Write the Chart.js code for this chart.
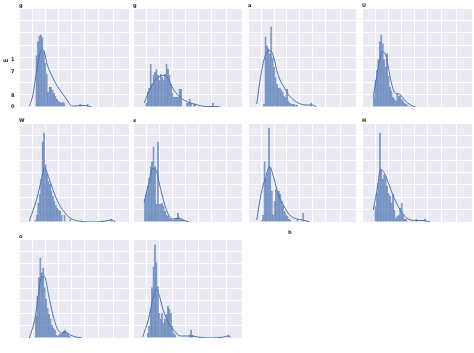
<!DOCTYPE html>
<html>
<head>
<meta charset="utf-8">
<script src="https://cdn.jsdelivr.net/npm/chart.js"></script>
<style>
  body { margin: 0; width: 474px; height: 353px; background: #fff; position: relative; overflow: hidden; font-family: "DejaVu Sans", sans-serif; }
  .panel { position: absolute; background: #EAEAF2; }
  .lbl { position: absolute; font-size: 5px; font-weight: bold; color: #262626; line-height: 1; -webkit-font-smoothing: antialiased; }
</style>
</head>
<body>
<script>
// Données (hauteurs relatives, axe x arbitraire 0..110)
const binWidth = 5 / 3;
const panelTitles = ['g', 'g', 'a', 'U', 'W', 'x', '', 'H', 'o', ''];
const binStarts = [11.3, 6.7, 10, 5, 10, 5, 7.3, 6.7, 10.7, 8.3];

const counts1 = [52, 66, 72, 73, 70, 56, 44, 33, 15, 20, 20, 17, 14, 11, 8, 6, 5, 4, 5, 4, 0, 0, 0, 0, 0, 0, 0, 0, 0, 0, 3, 0, 0, 0, 0, 3];
const counts2 = [4, 15, 19, 43, 23, 32, 35, 38, 32, 27, 33, 30, 27, 33, 43, 38, 32, 23, 14, 10, 10, 10, 10, 18, 18, 0, 0, 0, 4, 4, 8, 4, 0, 3, 3, 0, 0, 0, 0, 0, 0, 0, 0, 0, 0, 0, 4];
const counts3 = [3, 71, 62, 59, 54, 81, 50, 40, 30, 23, 19, 19, 17, 15, 11, 10, 18, 6, 4, 3, 3, 3, 2, 2, 0, 0, 0, 0, 0, 0, 0, 0, 0, 4];
const counts4 = [10, 27, 37, 48, 66, 73, 64, 48, 40, 54, 31, 20, 16, 10, 8, 6, 14, 11, 11, 8, 6, 4, 3, 2, 1];
const counts5 = [2, 7, 19, 28, 43, 81, 90, 58, 49, 41, 38, 31, 26, 21, 17, 14, 12, 11, 7, 0, 7, 0, 0, 0, 3, 0, 0, 0, 0, 0, 0, 0, 0, 0, 0, 0, 0, 0, 0, 0, 0, 0, 0, 0, 0, 0, 0, 0, 0, 0, 0, 0, 3];
const counts6 = [23, 28, 36, 44, 56, 61, 76, 56, 18, 81, 18, 18, 19, 16, 11, 7, 6, 4, 3, 2, 2, 3, 4, 9, 4, 2, 3, 2];
const counts7 = [2, 7, 61, 44, 50, 95, 55, 31, 7, 21, 33, 29, 31, 28, 21, 16, 11, 7, 6, 3, 2, 0, 0, 0, 0, 3, 0, 0, 0, 9];
const counts8 = [16, 29, 39, 90, 53, 43, 48, 46, 36, 29, 26, 19, 28, 12, 4, 6, 7, 14, 19, 7, 3, 3, 1, 0, 0, 0, 0, 0, 3, 0, 0, 0, 0, 0, 3];
const counts9 = [22, 42, 61, 81, 66, 71, 51, 39, 30, 24, 19, 13, 10, 8, 3, 2, 4, 4, 5, 7, 8, 5, 4, 2, 1];
const counts10 = [5, 12, 29, 51, 72, 94, 76, 52, 25, 19, 25, 15, 19, 24, 32, 29, 25, 12, 5, 3, 0, 0, 0, 0, 0, 0, 0, 0, 0, 3, 8, 3, 0, 0, 0, 0, 0, 0, 0, 0, 0, 0, 0, 0, 0, 0, 0, 0, 0, 0, 0, 0, 0, 0, 0, 0, 3];

// Courbes de densité (points relevés)
const kdeX1 = [4, 8, 12, 15, 18.3, 21, 24, 29, 34, 39, 44, 48, 51, 56, 62, 68, 75];
const kdeY1 = [1, 12, 35, 50, 58, 56, 44, 33, 24, 17, 11, 6, 2, 1, 1.5, 1.5, 0];
const kdeX2 = [5, 13.3, 20, 28, 31.7, 38, 45, 53, 63, 77, 87, 93];
const kdeY2 = [4, 21, 29, 32, 30, 19, 11, 6, 3, 0.5, 0.5, 0];
const kdeX3 = [2.3, 7.3, 12.3, 17.3, 20.7, 27.3, 34, 40.7, 50.7, 60.7, 67, 72];
const kdeY3 = [3, 33, 52, 57, 54, 32, 20, 11, 4, 2, 2, 0];
const kdeX4 = [5, 8.3, 11.7, 16, 20, 25, 30, 35, 41.7, 50, 53.3];
const kdeY4 = [10, 27, 45, 56, 50, 27, 14, 13, 6, 1, 0];
const kdeX5 = [4, 12.3, 17.3, 21.3, 25.7, 30.7, 37.3, 44, 50.7, 60.7, 80.7, 90.7, 97, 102];
const kdeY5 = [1, 23, 41, 55, 46, 33, 19, 10, 4, 1, 0, 1, 2, 0.5];
const kdeX6 = [5, 10, 15, 18.3, 23.3, 28.3, 33.3, 38.3, 45, 50, 56.7];
const kdeY6 = [20, 38, 54, 53, 36, 19, 7, 3, 4, 2, 0];
const kdeX7 = [2.3, 7.3, 12.3, 17.3, 22.3, 27.3, 34, 40.7, 49, 55.7, 64];
const kdeY7 = [2, 28, 44, 56, 44, 28, 16, 7, 3, 2, 0];
const kdeX8 = [5, 10, 13.3, 16.7, 21.7, 26.7, 31.7, 36.7, 43.3, 53.3, 63.3, 70];
const kdeY8 = [12, 36, 53, 51, 41, 29, 19, 11, 4, 1.5, 1.5, 0];
const kdeX9 = [4, 10.7, 14, 18, 21.3, 25.7, 30.7, 35.7, 40.7, 45.7, 50.7, 57.3, 64];
const kdeY9 = [0, 21, 42, 62, 62, 45, 24, 10, 5, 6, 3, 1, 0];
const kdeX10 = [3.3, 10, 15, 18.3, 21.7, 26.7, 33.3, 40, 46.7, 55, 60, 66.7, 80, 96.7, 101.7, 105];
const kdeY10 = [1, 19, 40, 49, 45, 29, 15, 7, 2, 2, 2, 1, 0, 1, 2, 1];

const allCounts = [counts1, counts2, counts3, counts4, counts5, counts6, counts7, counts8, counts9, counts10];
const allKdeX = [kdeX1, kdeX2, kdeX3, kdeX4, kdeX5, kdeX6, kdeX7, kdeX8, kdeX9, kdeX10];
const allKdeY = [kdeY1, kdeY2, kdeY3, kdeY4, kdeY5, kdeY6, kdeY7, kdeY8, kdeY9, kdeY10];

// Position des zones de tracé (gauche, largeur) et hauts des lignes
const cols = [[19, 110], [133, 109], [248, 108], [362, 110]];
const rows = [8, 123, 239];
const plotH = 99;

// Petits textes épars
const extraLabels = [
  { t: 'ш', x: 3, y: 58 }, { t: '1', x: 11, y: 57 }, { t: '7', x: 11, y: 69 },
  { t: '8', x: 11, y: 93 }, { t: '0', x: 11, y: 104 }, { t: 'h', x: 288, y: 230 }
];

function addLabel(text, x, y) {
  const d = document.createElement('div');
  d.className = 'lbl';
  d.textContent = text;
  d.style.left = x + 'px';
  d.style.top = y + 'px';
  document.body.appendChild(d);
}

const gridStyle = { color: '#ffffff', lineWidth: 1, drawTicks: false };

allCounts.forEach((counts, i) => {
  const col = cols[i % 4];
  const top = rows[Math.floor(i / 4)];

  const div = document.createElement('div');
  div.className = 'panel';
  div.style.left = col[0] + 'px';
  div.style.top = top + 'px';
  div.style.width = col[1] + 'px';
  div.style.height = plotH + 'px';
  const canvas = document.createElement('canvas');
  canvas.width = col[1];
  canvas.height = plotH;
  div.appendChild(canvas);
  document.body.appendChild(div);

  if (panelTitles[i]) addLabel(panelTitles[i], col[0], top - 5);

  const bars = counts.map((c, j) => ({ x: binStarts[i] + (j + 0.5) * binWidth, y: c }));
  const kde = allKdeX[i].map((x, j) => ({ x: x, y: allKdeY[i][j] }));

  new Chart(canvas.getContext('2d'), {
    type: 'bar',
    data: {
      datasets: [
        {
          type: 'line',
          data: kde,
          borderColor: '#4C72B0',
          borderWidth: 1,
          pointRadius: 0,
          cubicInterpolationMode: 'monotone',
          fill: false
        },
        {
          data: bars,
          backgroundColor: 'rgba(76, 114, 176, 0.4)',
          borderColor: 'rgba(76, 114, 176, 0.6)',
          borderWidth: 0.5,
          barPercentage: 1,
          categoryPercentage: 1
        }
      ]
    },
    options: {
      responsive: false,
      animation: false,
      events: [],
      layout: { padding: 0 },
      plugins: { legend: { display: false }, tooltip: { enabled: false } },
      scales: {
        x: { type: 'linear', min: 0, max: 110, ticks: { display: false, stepSize: 15 }, grid: gridStyle, border: { display: false } },
        y: { min: 0, max: 100, ticks: { display: false, stepSize: 12.5 }, grid: gridStyle, border: { display: false } }
      }
    }
  });
});

extraLabels.forEach(l => addLabel(l.t, l.x, l.y));
</script>
</body>
</html>
